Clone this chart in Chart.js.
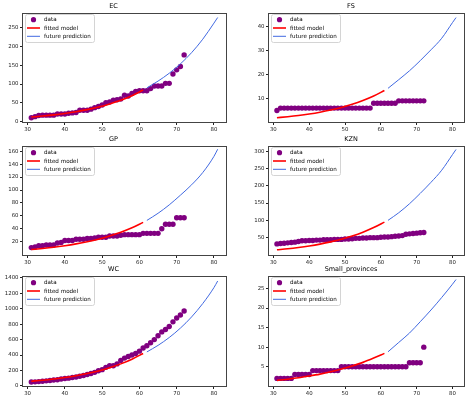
<!DOCTYPE html>
<html>
<head>
<meta charset="utf-8">
<script src="https://cdn.jsdelivr.net/npm/chart.js@4.4.1/dist/chart.umd.min.js"></script>
<style>
  html, body { margin: 0; padding: 0; background: #fff; }
  #fig { position: relative; width: 474px; height: 399px; overflow: hidden; }
  .panel { position: absolute; }
</style>
</head>
<body>
<div id="fig"></div>
<script>
// x values (days) for observed data, fitted curve and prediction curve
const X_DATA = [31,32,33,34,35,36,37,38,39,40,41,42,43,44,45,46,47,48,49,50,51,52,53,54,55,56,57,58,59,60,61,62,63,64,65,66,67,68,69,70,71,72];
const X_FIT = [31,34,37,40,43,46,49,52,55,58,61];
const X_PRED = [62,65,68,71,74,77,80,81];
const X_TICKS = [30,40,50,60,70,80];

const EC_DATA = [10,13,16,17,17,17,17,20,20,20,22,23,24,30,30,30,33,37,40,44,50,52,57,58,60,70,68,75,80,82,82,82,88,95,95,95,102,102,127,138,147,178];
const EC_FIT = [12,14.6,17.7,21.5,26.1,31.8,38.6,47,57,69,84];
const EC_PRED = [90,108,129,154,184,220,263,278];
const EC_TICKS = [0,50,100,150,200,250];

const FS_DATA = [5,6,6,6,6,6,6,6,6,6,6,6,6,6,6,6,6,6,6,6,6,6,6,6,6,6,6,8,8,8,8,8,8,8,9,9,9,9,9,9,9,9];
const FS_FIT = [2,2.42,2.92,3.53,4.27,5.17,6.25,7.55,9.13,11.0,13.3];
const FS_PRED = [14.2,17.8,21.5,25.7,30.2,35.0,41.5,43.6];
const FS_TICKS = [10,20,30,40];

const GP_DATA = [11,12,14,14,15,15,15,18,19,22,22,22,24,24,24,25,25,26,27,27,27,29,29,29,30,31,31,31,31,31,33,33,33,33,33,40,47,47,47,57,57,57];
const GP_FIT = [8,9.6,11.5,13.9,16.7,20,24,28.9,34.7,41.6,50];
const GP_PRED = [53,64,77,92,108,127,152,163];
const GP_TICKS = [20,40,60,80,100,120,140,160];

const KZN_DATA = [32,33,34,35,36,37,39,41,41,42,42,43,43,44,44,44,45,45,45,46,46,47,48,48,49,49,50,50,50,51,52,52,53,54,55,56,60,61,62,63,64,65];
const KZN_FIT = [15,18,21.7,26.1,31.4,37.8,45.5,54.7,65.8,79.2,95];
const KZN_PRED = [100,122,148,178,210,245,290,305];
const KZN_TICKS = [50,100,150,200,250,300];

const WC_DATA = [50,52,55,60,65,70,75,80,88,95,100,108,115,125,135,148,160,175,195,210,240,260,260,285,330,360,380,400,420,450,490,520,560,600,650,700,730,770,830,880,920,970];
const WC_FIT = [60,73,89,108,131,159,193,235,285,346,420];
const WC_PRED = [440,525,627,749,894,1068,1275,1360];
const WC_TICKS = [0,200,400,600,800,1000,1200,1400];

const SP_DATA = [2,2,2,2,2,3,3,3,3,3,4,4,4,4,4,4,4,4,5,5,5,5,5,5,5,5,5,5,5,5,5,5,5,5,5,5,5,6,6,6,6,10];
const SP_FIT = [1.5,1.8,2.15,2.6,3.1,3.7,4.4,5.2,6.1,7.2,8.4];
const SP_PRED = [8.8,11.2,13.6,16.5,19.5,22.7,26.1,27.3];
const SP_TICKS = [5,10,15,20,25];

const PANELS = [
  { name: 'EC', data: EC_DATA, fit: EC_FIT, pred: EC_PRED, ticks: EC_TICKS, min: -4, max: 290 },
  { name: 'FS', data: FS_DATA, fit: FS_FIT, pred: FS_PRED, ticks: FS_TICKS, min: -0.2, max: 45.5 },
  { name: 'GP', data: GP_DATA, fit: GP_FIT, pred: GP_PRED, ticks: GP_TICKS, min: -2, max: 168 },
  { name: 'KZN', data: KZN_DATA, fit: KZN_FIT, pred: KZN_PRED, ticks: KZN_TICKS, min: -3, max: 315 },
  { name: 'WC', data: WC_DATA, fit: WC_FIT, pred: WC_PRED, ticks: WC_TICKS, min: -15, max: 1425 },
  { name: 'Small_provinces', data: SP_DATA, fit: SP_FIT, pred: SP_PRED, ticks: SP_TICKS, min: -0.2, max: 28.2 }
];

const PURPLE = '#800080';
const RED = '#ff0000';
const BLUE = '#4169e1';
const FONT = "'DejaVu Sans', sans-serif";

Chart.defaults.font.family = FONT;

const COL_LEFT = [0, 237];
const COL_YAXIS = [22, 31];
const COL_PADR = [10, 9];
const ROW_TOP = [0, 133, 263];
const ROW_H = [135, 135, 136];

const toPts = (xs, ys) => xs.map((x, i) => ({ x: x, y: ys[i] }));

const frame = {
  id: 'frame',
  afterDatasetsDraw(chart) {
    const { ctx, chartArea: a } = chart;
    ctx.save();
    ctx.strokeStyle = '#444';
    ctx.lineWidth = 1;
    ctx.strokeRect(Math.round(a.left) + 0.5, Math.round(a.top) + 0.5,
      Math.round(a.right - a.left) - 1, Math.round(a.bottom - a.top) - 1);
    ctx.restore();
  }
};

const legendBox = {
  id: 'legendBox',
  afterDraw(chart) {
    const { ctx, chartArea: a } = chart;
    const x0 = Math.round(a.left) + 3, y0 = Math.round(a.top) + 1.5;
    ctx.save();
    ctx.beginPath();
    ctx.roundRect(x0 + 0.5, y0, 69, 28, 2);
    ctx.fillStyle = 'rgba(255,255,255,0.8)';
    ctx.fill();
    ctx.strokeStyle = '#d4d4d4';
    ctx.lineWidth = 1;
    ctx.stroke();
    ctx.font = '5.6px ' + FONT;
    ctx.textBaseline = 'middle';
    chart.data.datasets.forEach((ds, i) => {
      const cy = y0 + 5.2 + i * 8.3;
      if (ds.type === 'line') {
        ctx.strokeStyle = ds.borderColor;
        ctx.lineWidth = ds.borderWidth;
        ctx.beginPath();
        ctx.moveTo(x0 + 2, cy);
        ctx.lineTo(x0 + 15, cy);
        ctx.stroke();
      } else {
        ctx.fillStyle = ds.backgroundColor;
        ctx.beginPath();
        ctx.arc(x0 + 8.5, cy, 2.6, 0, Math.PI * 2);
        ctx.fill();
      }
      ctx.fillStyle = '#000';
      ctx.fillText(ds.label, x0 + 19, cy + 0.3);
    });
    ctx.restore();
  }
};

PANELS.forEach((p, idx) => {
  const col = idx % 2, row = Math.floor(idx / 2);
  const wrap = document.createElement('div');
  wrap.className = 'panel';
  wrap.style.left = COL_LEFT[col] + 'px';
  wrap.style.top = ROW_TOP[row] + 'px';
  const canvas = document.createElement('canvas');
  canvas.width = 237;
  canvas.height = ROW_H[row];
  canvas.style.width = '237px';
  canvas.style.height = ROW_H[row] + 'px';
  wrap.appendChild(canvas);
  document.getElementById('fig').appendChild(wrap);

  const tickFont = { family: FONT, size: 5.4 };

  new Chart(canvas.getContext('2d'), {
    type: 'scatter',
    data: {
      datasets: [
        {
          label: 'data',
          data: toPts(X_DATA, p.data),
          backgroundColor: PURPLE,
          borderColor: PURPLE,
          pointRadius: 2.7,
          pointBorderWidth: 0,
          order: 3
        },
        {
          type: 'line',
          label: 'fitted model',
          data: toPts(X_FIT, p.fit),
          borderColor: RED,
          borderWidth: 1.6,
          pointRadius: 0,
          cubicInterpolationMode: 'monotone',
          order: 1
        },
        {
          type: 'line',
          label: 'future prediction',
          data: toPts(X_PRED, p.pred),
          borderColor: BLUE,
          borderWidth: 1,
          pointRadius: 0,
          cubicInterpolationMode: 'monotone',
          order: 2
        }
      ]
    },
    options: {
      responsive: false,
      animation: false,
      events: [],
      layout: { padding: { left: 0, right: COL_PADR[col], top: 0, bottom: 0 } },
      plugins: {
        legend: { display: false },
        tooltip: { enabled: false },
        title: {
          display: true,
          text: p.name,
          color: '#000',
          font: { family: FONT, size: 6.5, weight: 'normal', lineHeight: 1.2 },
          padding: { top: 2.6, bottom: 2.6 }
        }
      },
      scales: {
        x: {
          type: 'linear',
          min: 28.5,
          max: 83.5,
          afterBuildTicks: s => { s.ticks = X_TICKS.map(v => ({ value: v })); },
          afterFit: s => { s.height = 12; },
          grid: { drawOnChartArea: false, tickLength: 2, color: '#222' },
          border: { display: false },
          ticks: { font: tickFont, color: '#222', padding: 1, maxRotation: 0, autoSkip: false,
                   callback: v => String(v) }
        },
        y: {
          type: 'linear',
          min: p.min,
          max: p.max,
          afterBuildTicks: s => { s.ticks = p.ticks.map(v => ({ value: v })); },
          afterFit: s => { s.width = COL_YAXIS[col]; },
          grid: { drawOnChartArea: false, tickLength: 2, color: '#222' },
          border: { display: false },
          ticks: { font: tickFont, color: '#222', padding: 1.5, autoSkip: false,
                   callback: v => String(v) }
        }
      }
    },
    plugins: [frame, legendBox]
  });
});
</script>
</body>
</html>
